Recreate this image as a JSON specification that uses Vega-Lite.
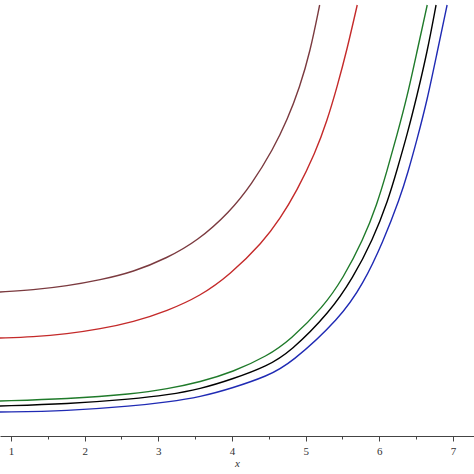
{
  "$schema": "https://vega.github.io/schema/vega-lite/v6.json",
  "width": 474,
  "height": 436,
  "padding": {"left": 0, "top": 0, "right": 0, "bottom": 38},
  "autosize": {"type": "none"},
  "background": "white",
  "config": {
    "view": {"stroke": null}
  },
  "data": {
    "values": [
      {"curve": "brown", "x": 0.85, "y": 14.4},
      {"curve": "brown", "x": 1.30, "y": 14.6},
      {"curve": "brown", "x": 1.76, "y": 15.0},
      {"curve": "brown", "x": 2.21, "y": 15.6},
      {"curve": "brown", "x": 2.66, "y": 16.4},
      {"curve": "brown", "x": 3.12, "y": 17.8},
      {"curve": "brown", "x": 3.53, "y": 19.5},
      {"curve": "brown", "x": 3.97, "y": 22.4},
      {"curve": "brown", "x": 4.27, "y": 25.2},
      {"curve": "brown", "x": 4.56, "y": 28.7},
      {"curve": "brown", "x": 4.75, "y": 31.6},
      {"curve": "brown", "x": 4.92, "y": 34.9},
      {"curve": "brown", "x": 5.06, "y": 38.4},
      {"curve": "brown", "x": 5.19, "y": 43.1},

      {"curve": "red", "x": 0.85, "y": 9.8},
      {"curve": "red", "x": 1.30, "y": 9.9},
      {"curve": "red", "x": 1.76, "y": 10.2},
      {"curve": "red", "x": 2.21, "y": 10.7},
      {"curve": "red", "x": 2.66, "y": 11.4},
      {"curve": "red", "x": 3.12, "y": 12.5},
      {"curve": "red", "x": 3.57, "y": 14.0},
      {"curve": "red", "x": 3.97, "y": 16.1},
      {"curve": "red", "x": 4.42, "y": 19.4},
      {"curve": "red", "x": 4.65, "y": 21.7},
      {"curve": "red", "x": 4.88, "y": 24.5},
      {"curve": "red", "x": 5.13, "y": 28.3},
      {"curve": "red", "x": 5.29, "y": 31.5},
      {"curve": "red", "x": 5.43, "y": 35.0},
      {"curve": "red", "x": 5.56, "y": 38.6},
      {"curve": "red", "x": 5.70, "y": 43.1},

      {"curve": "green", "x": 0.85, "y": 3.5},
      {"curve": "green", "x": 1.76, "y": 3.7},
      {"curve": "green", "x": 2.66, "y": 4.2},
      {"curve": "green", "x": 3.12, "y": 4.7},
      {"curve": "green", "x": 3.57, "y": 5.4},
      {"curve": "green", "x": 4.01, "y": 6.4},
      {"curve": "green", "x": 4.48, "y": 8.0},
      {"curve": "green", "x": 4.79, "y": 9.6},
      {"curve": "green", "x": 5.24, "y": 12.9},
      {"curve": "green", "x": 5.51, "y": 15.8},
      {"curve": "green", "x": 5.78, "y": 19.6},
      {"curve": "green", "x": 5.97, "y": 23.2},
      {"curve": "green", "x": 6.10, "y": 26.4},
      {"curve": "green", "x": 6.24, "y": 30.1},
      {"curve": "green", "x": 6.38, "y": 34.0},
      {"curve": "green", "x": 6.51, "y": 38.4},
      {"curve": "green", "x": 6.65, "y": 43.1},

      {"curve": "black", "x": 0.85, "y": 3.0},
      {"curve": "black", "x": 1.76, "y": 3.2},
      {"curve": "black", "x": 2.66, "y": 3.7},
      {"curve": "black", "x": 3.12, "y": 4.1},
      {"curve": "black", "x": 3.57, "y": 4.7},
      {"curve": "black", "x": 4.01, "y": 5.7},
      {"curve": "black", "x": 4.48, "y": 7.0},
      {"curve": "black", "x": 4.79, "y": 8.4},
      {"curve": "black", "x": 5.33, "y": 12.4},
      {"curve": "black", "x": 5.64, "y": 15.8},
      {"curve": "black", "x": 5.91, "y": 19.6},
      {"curve": "black", "x": 6.12, "y": 23.6},
      {"curve": "black", "x": 6.24, "y": 26.6},
      {"curve": "black", "x": 6.38, "y": 30.2},
      {"curve": "black", "x": 6.51, "y": 34.0},
      {"curve": "black", "x": 6.65, "y": 38.4},
      {"curve": "black", "x": 6.77, "y": 43.1},

      {"curve": "blue", "x": 0.85, "y": 2.4},
      {"curve": "blue", "x": 1.76, "y": 2.5},
      {"curve": "blue", "x": 2.66, "y": 3.0},
      {"curve": "blue", "x": 3.12, "y": 3.4},
      {"curve": "blue", "x": 3.57, "y": 3.9},
      {"curve": "blue", "x": 4.01, "y": 4.8},
      {"curve": "blue", "x": 4.48, "y": 6.0},
      {"curve": "blue", "x": 4.79, "y": 7.2},
      {"curve": "blue", "x": 5.47, "y": 11.8},
      {"curve": "blue", "x": 5.78, "y": 15.2},
      {"curve": "blue", "x": 6.05, "y": 19.4},
      {"curve": "blue", "x": 6.28, "y": 23.8},
      {"curve": "blue", "x": 6.39, "y": 26.4},
      {"curve": "blue", "x": 6.51, "y": 29.6},
      {"curve": "blue", "x": 6.65, "y": 33.6},
      {"curve": "blue", "x": 6.78, "y": 38.2},
      {"curve": "blue", "x": 6.92, "y": 43.1}
    ]
  },
  "mark": {"type": "line", "interpolate": "basis", "strokeWidth": 1.4, "clip": true},
  "encoding": {
    "x": {
      "field": "x",
      "type": "quantitative",
      "scale": {"domain": [0.851, 7.285], "nice": false, "zero": false},
      "axis": {
        "title": "x",
        "titleFont": "Liberation Serif",
        "titleFontStyle": "italic",
        "titleFontWeight": "normal",
        "titleFontSize": 11,
        "titleColor": "#333333",
        "titlePadding": 1,
        "values": [1, 1.5, 2, 2.5, 3, 3.5, 4, 4.5, 5, 5.5, 6, 6.5, 7],
        "labelExpr": "datum.value % 1 ? '' : format(datum.value, 'd')",
        "labelFont": "Liberation Serif",
        "labelFontSize": 11,
        "labelColor": "#333333",
        "labelPadding": 4,
        "labelFlush": false,
        "domainColor": "#444444",
        "domainWidth": 1,
        "tickColor": "#444444",
        "tickSize": {"condition": {"test": "datum.value % 1 !== 0", "value": 3}, "value": 5},
        "grid": false
      }
    },
    "y": {
      "field": "y",
      "type": "quantitative",
      "scale": {"domain": [0, 43.6], "nice": false},
      "axis": null
    },
    "color": {
      "field": "curve",
      "type": "nominal",
      "scale": {
        "domain": ["brown", "red", "green", "black", "blue"],
        "range": ["#7b3a3f", "#c42a2a", "#1f7a2a", "#000000", "#1f2ab4"]
      },
      "legend": null
    }
  }
}
